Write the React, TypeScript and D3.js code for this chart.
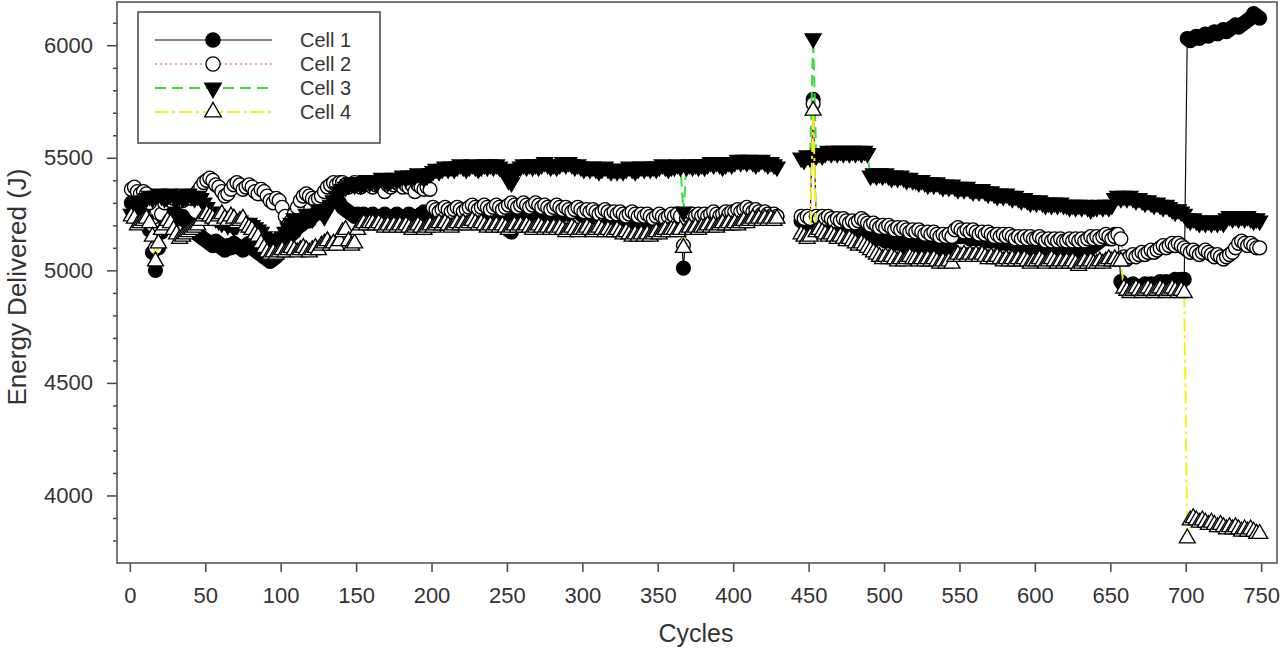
import React, { useRef, useEffect } from 'react';
import * as d3 from 'd3';

// size of the picture
const W = 1280;
const H = 651;

// cycle numbers of the sampled points (every 2nd cycle)
const CYCLES: number[] = d3.range(1, 750, 2);

// energy delivered (J) per cell, one value per entry of CYCLES (10 per row = 20 cycles)
const CELL1: (number | null)[] = [
  5300, 5310, 5290, 5280, 5260, 5230, 5180, 5080, 5000, 5100,
  5170, 5220, 5250, 5240, 5260, 5250, 5230, 5240, 5220, 5210,
  5200, 5180, 5160, 5150, 5140, 5130, 5120, 5110, 5130, 5120,
  5100, 5090, 5110, 5100, 5120, 5110, 5100, 5090, 5110, 5120,
  5100, 5090, 5080, 5070, 5060, 5050, 5040, 5050, 5060, 5080,
  5100, 5120, 5140, 5160, 5170, 5190, 5200, 5210, 5230, 5220,
  5240, 5250, 5260, 5280, 5290, 5300, 5310, 5330, 5320, 5300,
  5280, 5270, 5260, 5250, 5240, 5250, 5240, 5250, 5240, 5230,
  5250, 5240, 5230, 5240, 5250, 5240, 5230, 5240, 5250, 5240,
  5230, 5240, 5250, 5240, 5230, 5240, 5250, 5260, 5250, 5240,
  5250, 5240, 5250, 5260, 5250, 5240, 5250, 5260, 5250, 5240,
  5250, 5260, 5250, 5240, 5250, 5260, 5270, 5260, 5250, 5240,
  5250, 5240, 5250, 5240, 5230, 5180, 5170, 5220, 5240, 5250,
  5240, 5250, 5260, 5250, 5240, 5250, 5260, 5250, 5240, 5250,
  5260, 5250, 5240, 5250, 5260, 5250, 5260, 5270, 5260, 5250,
  5240, 5250, 5240, 5250, 5240, 5230, 5240, 5230, 5240, 5230,
  5220, 5230, 5240, 5230, 5220, 5230, 5220, 5210, 5220, 5230,
  5220, 5210, 5220, 5210, 5200, 5210, 5220, 5210, 5220, 5210,
  5220, 5210, 5220, 5010, 5200, 5210, 5220, 5210, 5220, 5230,
  5220, 5210, 5220, 5230, 5220, 5230, 5240, 5230, 5220, 5230,
  5240, 5230, 5240, 5250, 5240, 5230, 5240, 5250, 5240, 5250,
  5240, 5250, 5240, 5230, 5240, null, null, null, null, null,
  null, null, 5220, 5210, 5200, 5210, 5760, 5220, 5210, 5200,
  5210, 5200, 5190, 5200, 5190, 5180, 5190, 5180, 5170, 5180,
  5170, 5160, 5170, 5160, 5150, 5160, 5150, 5140, 5150, 5140,
  5130, 5140, 5130, 5120, 5130, 5120, 5110, 5120, 5110, 5120,
  5110, 5100, 5110, 5100, 5090, 5100, 5090, 5080, 5090, 5080,
  5090, 5080, 5090, 5150, 5160, 5150, 5160, 5150, 5140, 5150,
  5140, 5150, 5140, 5130, 5140, 5130, 5140, 5130, 5120, 5130,
  5120, 5130, 5120, 5110, 5120, 5110, 5120, 5110, 5100, 5110,
  5100, 5110, 5100, 5090, 5100, 5090, 5100, 5090, 5080, 5090,
  5080, 5090, 5080, 5070, 5080, 5070, 5080, 5090, 5100, 5110,
  5120, 5130, 5140, 5150, 5140, 5150, 5160, 5150, 4950, 4930,
  4920, 4930, 4940, 4930, 4920, 4930, 4940, 4930, 4940, 4930,
  4940, 4950, 4940, 4950, 4940, 4950, 4960, 4950, 4960, 4960,
  6030, 6020, 6030, 6040, 6030, 6040, 6050, 6040, 6050, 6060,
  6050, 6060, 6070, 6060, 6070, 6080, 6090, 6080, 6090, 6100,
  6110, 6120, 6140, 6130, 6120,
];

const CELL2: (number | null)[] = [
  5360, 5370, 5350, 5340, 5350, 5340, 5300, 5200, 5100, 5180,
  5250, 5300, 5320, 5310, 5320, 5330, 5320, 5310, 5320, 5330,
  5320, 5330, 5350, 5370, 5390, 5400, 5410, 5400, 5380, 5370,
  5350, 5330, 5340, 5360, 5380, 5390, 5380, 5360, 5370, 5380,
  5370, 5350, 5340, 5360, 5350, 5330, 5310, 5300, 5320, 5310,
  5280, 5240, 5200, 5220, 5250, 5280, 5310, 5330, 5340, 5330,
  5320, 5310, 5320, 5330, 5350, 5370, 5380, 5390, 5380, 5390,
  5390, 5380, 5370, 5380, 5390, 5380, 5370, 5380, 5390, 5380,
  5370, 5380, 5390, 5380, 5350, 5380, 5370, 5380, 5390, 5380,
  5370, 5380, 5370, 5380, 5350, 5380, 5370, 5360, 5370, 5360,
  5280, 5270, 5260, 5270, 5280, 5270, 5260, 5270, 5280, 5270,
  5260, 5270, 5280, 5290, 5280, 5270, 5280, 5290, 5280, 5270,
  5280, 5290, 5280, 5270, 5280, 5290, 5300, 5290, 5280, 5290,
  5300, 5290, 5280, 5290, 5300, 5290, 5280, 5290, 5280, 5270,
  5280, 5290, 5280, 5270, 5280, 5270, 5260, 5270, 5280, 5270,
  5260, 5270, 5260, 5270, 5260, 5250, 5260, 5270, 5260, 5250,
  5260, 5250, 5260, 5250, 5240, 5250, 5260, 5250, 5240, 5250,
  5240, 5250, 5240, 5230, 5240, 5250, 5240, 5230, 5240, 5250,
  5240, 5250, 5240, 5110, 5230, 5240, 5250, 5240, 5250, 5240,
  5250, 5240, 5250, 5260, 5250, 5240, 5250, 5260, 5250, 5260,
  5260, 5270, 5260, 5270, 5280, 5270, 5260, 5270, 5260, 5250,
  5260, 5250, 5240, 5250, 5240, null, null, null, null, null,
  null, null, 5240, 5230, 5240, 5230, 5740, 5240, 5230, 5240,
  5230, 5240, 5230, 5220, 5230, 5220, 5230, 5220, 5210, 5220,
  5210, 5220, 5230, 5220, 5210, 5200, 5210, 5200, 5190, 5200,
  5190, 5200, 5190, 5180, 5190, 5180, 5190, 5180, 5170, 5180,
  5170, 5180, 5170, 5160, 5170, 5160, 5170, 5160, 5150, 5160,
  5150, 5160, 5150, 5180, 5190, 5180, 5170, 5180, 5170, 5180,
  5170, 5160, 5170, 5160, 5170, 5160, 5150, 5160, 5150, 5160,
  5150, 5160, 5150, 5140, 5150, 5140, 5150, 5140, 5150, 5140,
  5140, 5150, 5140, 5130, 5140, 5130, 5140, 5130, 5140, 5130,
  5130, 5140, 5130, 5140, 5130, 5140, 5130, 5140, 5150, 5140,
  5150, 5140, 5150, 5160, 5150, 5140, 5150, 5160, 5140, 5060,
  5050, 5060, 5070, 5060, 5070, 5080, 5070, 5080, 5090, 5080,
  5090, 5100, 5110, 5100, 5110, 5120, 5110, 5120, 5110, 5100,
  5090, 5080, 5090, 5080, 5070, 5080, 5090, 5080, 5070, 5060,
  5070, 5060, 5050, 5060, 5070, 5080, 5100, 5120, 5130, 5120,
  5110, 5120, 5110, 5100, 5100,
];

const CELL3: (number | null)[] = [
  5250, 5270, 5290, 5300, 5310, 5320, 5330, 5320, 5330, 5340,
  5330, 5320, 5330, 5340, 5330, 5320, 5330, 5320, 5330, 5340,
  5330, 5320, 5330, 5320, 5300, 5280, 5260, 5240, 5230, 5220,
  5210, 5220, 5200, 5210, 5190, 5200, 5220, 5210, 5200, 5210,
  5200, 5190, 5180, 5170, 5150, 5140, 5130, 5120, 5130, 5140,
  5150, 5170, 5190, 5210, 5230, 5220, 5210, 5230, 5250, 5240,
  5230, 5250, 5270, 5260, 5240, 5270, 5290, 5310, 5330, 5350,
  5360, 5370, 5380, 5390, 5380, 5390, 5380, 5390, 5400, 5390,
  5400, 5390, 5400, 5410, 5400, 5390, 5400, 5410, 5400, 5410,
  5420, 5410, 5420, 5410, 5420, 5430, 5420, 5410, 5420, 5430,
  5440, 5450, 5440, 5450, 5460, 5450, 5460, 5450, 5460, 5470,
  5460, 5450, 5460, 5470, 5460, 5450, 5460, 5470, 5460, 5470,
  5460, 5470, 5460, 5450, 5440, 5400, 5390, 5430, 5450, 5460,
  5470, 5460, 5470, 5460, 5470, 5460, 5470, 5480, 5470, 5460,
  5470, 5460, 5470, 5480, 5470, 5480, 5470, 5460, 5470, 5460,
  5450, 5460, 5450, 5460, 5450, 5440, 5450, 5460, 5450, 5440,
  5450, 5440, 5450, 5440, 5450, 5460, 5450, 5440, 5450, 5460,
  5450, 5460, 5450, 5460, 5450, 5460, 5470, 5460, 5450, 5460,
  5460, 5470, 5460, 5260, 5460, 5470, 5460, 5470, 5460, 5470,
  5460, 5470, 5480, 5470, 5480, 5470, 5460, 5470, 5480, 5470,
  5480, 5490, 5480, 5490, 5480, 5490, 5480, 5470, 5480, 5490,
  5480, 5470, 5480, 5470, 5460, null, null, null, null, null,
  null, null, 5500, 5490, 5510, 5500, 6030, 5510, 5520, 5510,
  5520, 5530, 5520, 5530, 5520, 5530, 5520, 5530, 5520, 5530,
  5520, 5530, 5520, 5530, 5520, 5420, 5430, 5420, 5430, 5420,
  5430, 5420, 5410, 5420, 5410, 5420, 5410, 5400, 5410, 5400,
  5400, 5390, 5400, 5390, 5380, 5390, 5380, 5390, 5380, 5370,
  5380, 5370, 5380, 5370, 5360, 5370, 5360, 5370, 5360, 5350,
  5360, 5350, 5360, 5350, 5340, 5350, 5340, 5330, 5340, 5330,
  5340, 5330, 5320, 5330, 5320, 5310, 5320, 5310, 5300, 5310,
  5300, 5310, 5300, 5290, 5300, 5290, 5300, 5290, 5300, 5290,
  5290, 5280, 5290, 5280, 5290, 5280, 5290, 5280, 5270, 5280,
  5280, 5290, 5280, 5290, 5280, 5290, 5320, 5330, 5320, 5330,
  5320, 5330, 5320, 5310, 5320, 5310, 5300, 5310, 5300, 5290,
  5300, 5290, 5280, 5290, 5280, 5270, 5260, 5270, 5260, 5250,
  5230, 5220, 5230, 5220, 5210, 5220, 5210, 5220, 5210, 5220,
  5210, 5220, 5210, 5230, 5240, 5230, 5240, 5230, 5240, 5230,
  5240, 5230, 5220, 5230, 5220,
];

const CELL4: (number | null)[] = [
  5240, 5230, 5200, 5210, 5220, 5230, 5210, 5150, 5040, 5120,
  5180, 5200, 5220, 5210, 5180, 5160, 5140, 5150, 5160, 5170,
  5180, 5190, 5200, 5220, 5240, 5250, 5240, 5230, 5220, 5240,
  5250, 5230, 5220, 5240, 5230, 5210, 5220, 5230, 5200, 5190,
  5180, 5160, 5150, 5120, 5100, 5080, 5070, 5080, 5070, 5080,
  5090, 5080, 5090, 5100, 5090, 5080, 5090, 5100, 5090, 5080,
  5090, 5100, 5090, 5110, 5120, 5130, 5110, 5120, 5110, 5130,
  5170, 5180, 5130, 5110, 5120, 5180, 5200, 5210, 5200, 5210,
  5210, 5200, 5210, 5200, 5190, 5200, 5190, 5200, 5190, 5200,
  5190, 5200, 5190, 5180, 5190, 5200, 5190, 5180, 5190, 5200,
  5190, 5200, 5210, 5200, 5210, 5200, 5190, 5200, 5210, 5200,
  5210, 5200, 5210, 5220, 5210, 5200, 5210, 5200, 5190, 5200,
  5190, 5200, 5190, 5200, 5190, 5180, 5190, 5200, 5190, 5200,
  5190, 5200, 5190, 5180, 5190, 5200, 5190, 5180, 5190, 5180,
  5190, 5180, 5190, 5180, 5170, 5180, 5190, 5180, 5170, 5180,
  5180, 5190, 5180, 5170, 5180, 5190, 5180, 5170, 5180, 5170,
  5170, 5180, 5170, 5160, 5170, 5160, 5150, 5160, 5150, 5160,
  5150, 5160, 5150, 5160, 5170, 5160, 5170, 5180, 5170, 5180,
  5180, 5170, 5180, 5100, 5180, 5190, 5180, 5190, 5180, 5190,
  5190, 5200, 5190, 5200, 5190, 5200, 5210, 5200, 5210, 5200,
  5210, 5200, 5210, 5220, 5210, 5220, 5230, 5220, 5230, 5220,
  5230, 5220, 5230, 5220, 5230, null, null, null, null, null,
  null, null, 5160, 5150, 5140, 5150, 5710, 5170, 5180, 5170,
  5160, 5150, 5160, 5150, 5140, 5150, 5140, 5130, 5140, 5130,
  5120, 5110, 5120, 5110, 5100, 5090, 5080, 5070, 5060, 5050,
  5060, 5050, 5060, 5050, 5040, 5050, 5040, 5050, 5060, 5050,
  5050, 5040, 5050, 5040, 5050, 5040, 5050, 5040, 5030, 5040,
  5030, 5040, 5030, 5060, 5070, 5060, 5070, 5060, 5070, 5060,
  5070, 5060, 5070, 5060, 5050, 5060, 5050, 5060, 5050, 5040,
  5050, 5040, 5050, 5040, 5050, 5040, 5050, 5040, 5030, 5040,
  5040, 5050, 5040, 5030, 5040, 5050, 5040, 5030, 5040, 5030,
  5040, 5030, 5040, 5030, 5020, 5030, 5040, 5030, 5040, 5030,
  5030, 5040, 5030, 5040, 5050, 5040, 5050, 5040, 5040, 4920,
  4910, 4900, 4910, 4920, 4910, 4900, 4910, 4920, 4910, 4900,
  4910, 4920, 4910, 4900, 4910, 4920, 4910, 4900, 4910, 4900,
  3810, 3890, 3900, 3890, 3880, 3890, 3880, 3870, 3880, 3870,
  3860, 3870, 3860, 3850, 3860, 3850, 3860, 3850, 3840, 3850,
  3840, 3850, 3840, 3830, 3830,
];

const SERIES_NAMES = ['Cell 1', 'Cell 2', 'Cell 3', 'Cell 4'];
const X_TICKS = [0, 50, 100, 150, 200, 250, 300, 350, 400, 450, 500, 550, 600, 650, 700, 750];
const Y_TICKS = [4000, 4500, 5000, 5500, 6000];
const Y_MINOR = [3800, 3900, 4100, 4200, 4300, 4400, 4600, 4700, 4800, 4900,
  5100, 5200, 5300, 5400, 5600, 5700, 5800, 5900, 6100];

const FONT = '"Liberation Sans", Arial, Helvetica, sans-serif';

type Style = {
  values: (number | null)[];
  symbol: d3.SymbolType;
  size: number;
  invert: boolean;
  fill: string;
  line: string;
  lineWidth: number;
  dash: string | null;
};

const STYLES: Style[] = [
  { values: CELL1, symbol: d3.symbolCircle, size: 150, invert: false, fill: '#000', line: '#111', lineWidth: 1.2, dash: null },
  { values: CELL2, symbol: d3.symbolCircle, size: 150, invert: false, fill: '#fff', line: '#f08a8a', lineWidth: 1.6, dash: '2,3' },
  { values: CELL3, symbol: d3.symbolTriangle, size: 110, invert: true, fill: '#000', line: '#3ddc3d', lineWidth: 2, dash: '11,6' },
  { values: CELL4, symbol: d3.symbolTriangle, size: 110, invert: false, fill: '#fff', line: '#f2f21a', lineWidth: 2, dash: '13,4,3,4' },
];

const App: React.FC = () => {
  const svgRef = useRef<SVGSVGElement | null>(null);

  useEffect(() => {
    document.body.style.margin = '0';
    const svg = d3.select(svgRef.current);
    svg.selectAll('*').remove();

    const left = 117, right = 1277, top = 2, bottom = 563;
    const x = d3.scaleLinear().domain([-8.5, 760.5]).range([left, right]);
    const y = d3.scaleLinear().domain([3700, 6192]).range([bottom, top]);

    svg.append('rect').attr('width', W).attr('height', H).attr('fill', '#fff');

    svg.append('defs').append('clipPath').attr('id', 'plotClip')
      .append('rect').attr('x', left).attr('y', top).attr('width', right - left).attr('height', bottom - top);

    // 데이터: 시리즈마다 선 먼저, 그 다음 마커
    const plot = svg.append('g').attr('clip-path', 'url(#plotClip)');
    STYLES.forEach((s) => {
      const pts = CYCLES.map((c, i) => ({ c, v: s.values[i] }));
      const line = d3.line<{ c: number; v: number | null }>()
        .defined((d) => d.v != null)
        .x((d) => x(d.c))
        .y((d) => y(d.v as number));
      plot.append('path')
        .attr('d', line(pts))
        .attr('fill', 'none')
        .attr('stroke', s.line)
        .attr('stroke-width', s.lineWidth)
        .attr('stroke-dasharray', s.dash);
      const sym = d3.symbol().type(s.symbol).size(s.size);
      plot.append('g').selectAll('path')
        .data(pts.filter((d) => d.v != null))
        .enter()
        .append('path')
        .attr('d', sym)
        .attr('transform', (d) => `translate(${x(d.c)},${y(d.v as number)})${s.invert ? ' rotate(180)' : ''}`)
        .attr('fill', s.fill)
        .attr('stroke', '#000')
        .attr('stroke-width', 1.35);
    });

    // 축 (주 눈금과 보조 눈금은 따로)
    const yMajor = svg.append('g').attr('transform', `translate(${left},0)`).attr('color', '#444');
    yMajor.call(d3.axisLeft(y).tickValues(Y_TICKS).tickSize(10).tickPadding(14).tickFormat(d3.format('d')));
    const yMinor = svg.append('g').attr('transform', `translate(${left},0)`).attr('color', '#444');
    yMinor.call(d3.axisLeft(y).tickValues(Y_MINOR).tickSize(4).tickFormat(() => ''));

    const xAxis = svg.append('g').attr('transform', `translate(0,${bottom})`).attr('color', '#444');
    xAxis.call(d3.axisBottom(x).tickValues(X_TICKS).tickSize(9).tickPadding(15).tickFormat(d3.format('d')));

    svg.selectAll('.domain').remove();
    svg.selectAll('.tick line').attr('stroke-width', 1.5);
    svg.selectAll('.tick text')
      .attr('fill', '#333')
      .style('font-family', FONT)
      .style('font-size', '22px');

    // 테두리
    svg.append('rect')
      .attr('x', left).attr('y', top).attr('width', right - left).attr('height', bottom - top)
      .attr('fill', 'none').attr('stroke', '#555').attr('stroke-width', 1.6);

    // 축 제목
    svg.append('text')
      .attr('x', 696).attr('y', 642)
      .attr('text-anchor', 'middle')
      .attr('fill', '#333')
      .style('font-family', FONT).style('font-size', '25px')
      .text('Cycles');
    svg.append('text')
      .attr('transform', 'translate(26,287) rotate(-90)')
      .attr('text-anchor', 'middle')
      .attr('fill', '#333')
      .style('font-family', FONT).style('font-size', '26px')
      .text('Energy Delivered (J)');

    // 범례
    const lg = svg.append('g');
    lg.append('rect')
      .attr('x', 138).attr('y', 12).attr('width', 242).attr('height', 131)
      .attr('fill', '#fff').attr('stroke', '#444').attr('stroke-width', 1.5);
    STYLES.forEach((s, i) => {
      const ly = 40 + i * 24;
      lg.append('line')
        .attr('x1', 155).attr('x2', 272).attr('y1', ly).attr('y2', ly)
        .attr('stroke', s.line).attr('stroke-width', s.lineWidth)
        .attr('stroke-dasharray', s.dash);
      lg.append('path')
        .attr('d', d3.symbol().type(s.symbol).size(s.size + 10)())
        .attr('transform', `translate(213,${ly})${s.invert ? ' rotate(180)' : ''}`)
        .attr('fill', s.fill).attr('stroke', '#000').attr('stroke-width', 1.3);
      lg.append('text')
        .attr('x', 300).attr('y', ly + 7)
        .attr('fill', '#333')
        .style('font-family', FONT).style('font-size', '20px')
        .text(SERIES_NAMES[i]);
    });
  }, []);

  return (
    <svg ref={svgRef} width={W} height={H} style={{ display: 'block', background: '#fff' }} />
  );
};

export default App;
